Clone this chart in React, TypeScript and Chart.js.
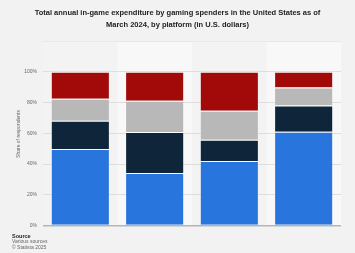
import React, { useEffect, useRef } from "react";
import { Chart, registerables } from "chart.js";

Chart.register(...registerables);

const categories = ["Mobile", "PC", "Console", "Handheld"];
const seriesNames = ["Up to $10", "$10 to $50", "$50 to $100", "More than $100"];
const blueValues = [49.7, 34.2, 42.0, 60.9];
const navyValues = [18.4, 26.6, 13.7, 17.2];
const grayValues = [14.4, 20.4, 19.0, 11.6];
const redValues = [17.5, 18.8, 25.3, 10.3];
const yTicks = [0, 20, 40, 60, 80, 100];
const titleLines = [
  "Total annual in-game expenditure by gaming spenders in the United States as of",
  "March 2024, by platform (in U.S. dollars)",
];
const yTitle = "Share of respondents";
const sourceLines = ["Source", "Various sources", "© Statista 2025"];

const colors = ["#2876dd", "#0f253a", "#b8b8b8", "#a20a0a"];

const FONT = "'Liberation Sans', Arial, sans-serif";

const bandsPlugin = {
  id: "bands",
  beforeDraw(chart: any) {
    const { ctx, chartArea } = chart;
    const n = categories.length;
    const w = (chartArea.right - chartArea.left) / n;
    ctx.save();
    for (let i = 0; i < n; i++) {
      ctx.fillStyle = i % 2 === 0 ? "#f3f3f3" : "#f8f8f8";
      ctx.fillRect(chartArea.left + i * w, chartArea.top, w, chartArea.bottom - chartArea.top);
    }
    ctx.restore();
  },
};

const textPlugin = {
  id: "extraText",
  afterDraw(chart: any) {
    const { ctx } = chart;
    ctx.save();
    ctx.translate(19, 134);
    ctx.rotate(-Math.PI / 2);
    ctx.font = `5px ${FONT}`;
    ctx.fillStyle = "#666";
    ctx.textAlign = "center";
    ctx.textBaseline = "middle";
    ctx.fillText(yTitle, 0, 0);
    ctx.restore();

    ctx.save();
    ctx.textAlign = "left";
    ctx.textBaseline = "middle";
    ctx.fillStyle = "#222";
    ctx.font = `bold 5.5px ${FONT}`;
    ctx.fillText(sourceLines[0], 12, 236);
    ctx.font = `5px ${FONT}`;
    ctx.fillStyle = "#666";
    ctx.fillText(sourceLines[1], 12, 242);
    ctx.fillText(sourceLines[2], 12, 248);
    ctx.restore();
  },
};

export default function App() {
  const ref = useRef<HTMLCanvasElement | null>(null);

  useEffect(() => {
    if (!ref.current) return;
    const data = [blueValues, navyValues, grayValues, redValues];
    const chart = new Chart(ref.current, {
      type: "bar",
      data: {
        labels: categories,
        datasets: data.map((vals, i) => ({
          label: seriesNames[i],
          data: vals,
          backgroundColor: colors[i],
          borderColor: "#ffffff",
          borderWidth: { top: 1, bottom: 0, left: 0, right: 0 },
          borderSkipped: false,
          barPercentage: 1,
          categoryPercentage: 0.77,
        })),
      },
      options: {
        animation: false,
        responsive: false,
        maintainAspectRatio: false,
        layout: { padding: { left: 0, right: 0, top: 0, bottom: 27.5 } },
        plugins: {
          legend: { display: false },
          tooltip: { enabled: false },
          title: {
            display: true,
            text: titleLines,
            color: "#222",
            font: { family: FONT, size: 7.5, weight: "bold", lineHeight: 1.6 },
            padding: { top: 7, bottom: 10 },
          },
        },
        scales: {
          x: {
            stacked: true,
            grid: { display: false, drawTicks: false },
            border: { display: false },
            ticks: { display: false },
            afterFit: (s: any) => {
              s.height = 0;
            },
          },
          y: {
            stacked: true,
            min: 0,
            max: 120,
            afterBuildTicks: (s: any) => {
              s.ticks = [...yTicks, 120].map((v) => ({ value: v }));
            },
            afterFit: (s: any) => {
              s.width = 43;
            },
            grid: {
              drawTicks: false,
              color: (c: any) =>
                c.tick && c.tick.value === 0 ? "#b5b5b5" : c.tick && c.tick.value === 120 ? "#e8e8e8" : "#dedede",
              lineWidth: (c: any) => (c.tick && c.tick.value === 0 ? 1.5 : 1),
            },
            border: { display: false },
            ticks: {
              padding: 6,
              color: "#666",
              font: { family: FONT, size: 5 },
              callback: (v: any) => (Number(v) <= 100 ? `${v}%` : ""),
            },
          },
          yRight: {
            position: "right",
            min: 0,
            max: 120,
            grid: { display: false, drawTicks: false },
            border: { display: false },
            ticks: { display: false },
            afterFit: (s: any) => {
              s.width = 14;
            },
          },
        },
      },
      plugins: [bandsPlugin, textPlugin],
    });
    return () => chart.destroy();
  }, []);

  return (
    <div
      style={{
        position: "fixed",
        left: 0,
        top: 0,
        width: 355,
        height: 253,
        background: "#f2f2f2",
      }}
    >
      <canvas ref={ref} width={355} height={253} style={{ width: 355, height: 253, display: "block" }} />
    </div>
  );
}
